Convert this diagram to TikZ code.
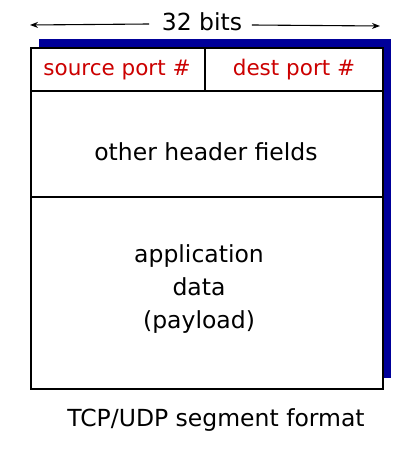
\documentclass[tikz,border=0pt]{standalone}
\usepackage{fontspec}
\setmainfont{DejaVu Sans}
\usetikzlibrary{arrows.meta}
\definecolor{navy}{RGB}{0,0,153}
\definecolor{portred}{RGB}{204,0,0}
\tikzset{
  field/.style={font=\fontsize{23.5}{33}\selectfont, align=center, inner sep=0pt},
  port/.style={field, font=\fontsize{21.5}{26}\selectfont, text=portred},
  span/.style={line width=1.1pt, -{Stealth[length=8pt, width=6pt]}},
}
\begin{document}
\begin{tikzpicture}[x=1pt, y=-1pt, line width=1.6pt]
  \useasboundingbox (0,0) rectangle (411,449);
  % shadow and segment box
  \fill[navy] (39,39) rectangle (391,378);
  \draw[fill=white] (31,48) rectangle (383,389);
  \draw (31,91) -- (383,91);
  \draw (205,48) -- (205,91);
  \draw (31,197) -- (383,197);
  % width label
  \node[field] (bits) at (202,22) {32 bits};
  \coordinate (left) at (30,25);
  \coordinate (right) at (380,26);
  \draw[span] (bits.west) ++(-12,2) -- (left);
  \draw[span] (bits.east) ++(9,3) -- (right);
  % fields
  \node[port] (src) at (117,70) {source port \#};
  \node[port] (dst) at (294,70) {dest port \#};
  \node[field] (other) at (206,152) {other header fields};
  \node[field] (data) at (199,289) {application\\data\\(payload)};
  \node[field] (caption) at (216,420) {TCP/UDP segment format};
\end{tikzpicture}
\end{document}
